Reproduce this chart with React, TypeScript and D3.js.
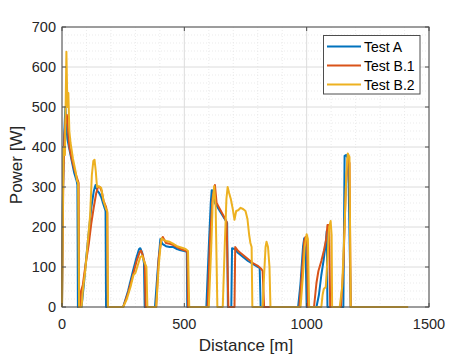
import React from "react";
import * as d3 from "d3";

const distA = [0, 3, 8, 14, 18, 22, 30, 40, 50, 60, 63, 65, 80, 90, 100, 110, 120, 130, 137, 145, 152, 160, 170, 178, 180, 250, 270, 290, 305, 315, 320, 328, 335, 338, 380, 392, 402, 410, 425, 440, 455, 470, 485, 500, 510, 512, 590, 600, 608, 612, 618, 625, 640, 660, 675, 678, 692, 695, 705, 720, 740, 760, 780, 800, 808, 812, 965, 975, 985, 990, 995, 1000, 1040, 1050, 1060, 1070, 1078, 1082, 1085, 1150, 1155, 1162, 1170, 1180, 1190];
const powA = [0, 250, 420, 500, 450, 420, 395, 365, 335, 315, 305, 0, 0, 60, 130, 190, 250, 290, 305, 290, 285, 275, 255, 240, 0, 0, 40, 90, 125, 145, 147, 135, 110, 0, 0, 100, 170, 158, 152, 150, 150, 145, 142, 140, 138, 0, 0, 150, 260, 292, 290, 260, 245, 225, 210, 0, 0, 147, 145, 135, 125, 115, 108, 100, 97, 0, 0, 60, 150, 172, 165, 0, 0, 30, 80, 120, 160, 190, 0, 0, 378, 380, 370, 0, 0];

const distB1 = [0, 5, 10, 15, 20, 25, 30, 40, 50, 60, 68, 70, 75, 78, 85, 95, 110, 120, 130, 140, 147, 155, 162, 170, 180, 185, 187, 250, 270, 290, 305, 318, 323, 330, 338, 342, 385, 395, 405, 412, 425, 440, 455, 470, 485, 500, 512, 515, 595, 605, 615, 625, 632, 645, 660, 673, 680, 705, 708, 720, 740, 760, 780, 800, 815, 820, 826, 970, 980, 990, 995, 1002, 1005, 1030, 1040, 1048, 1060, 1070, 1080, 1085, 1092, 1096, 1140, 1150, 1160, 1168, 1175, 1180, 1190];
const powB1 = [0, 300, 430, 470, 480, 440, 400, 370, 345, 325, 310, 0, 0, 40, 55, 100, 160, 210, 250, 285, 300, 300, 290, 265, 250, 235, 0, 0, 35, 80, 115, 138, 141, 130, 110, 0, 0, 120, 165, 175, 160, 158, 155, 150, 145, 142, 138, 0, 0, 170, 270, 305, 260, 245, 228, 213, 0, 0, 150, 140, 130, 120, 110, 103, 95, 90, 0, 0, 80, 165, 175, 160, 0, 0, 60, 90, 115, 140, 170, 205, 205, 0, 0, 100, 300, 372, 360, 0, 0];

const distB2 = [0, 3, 6, 12, 18, 22, 26, 30, 35, 45, 55, 62, 66, 70, 80, 85, 95, 105, 115, 122, 128, 133, 138, 143, 150, 160, 170, 180, 185, 188, 250, 265, 280, 292, 300, 310, 320, 328, 335, 345, 349, 385, 395, 402, 407, 415, 425, 440, 455, 470, 490, 505, 515, 520, 600, 610, 616, 622, 628, 635, 657, 665, 672, 677, 683, 690, 698, 705, 712, 720, 730, 740, 750, 758, 765, 770, 775, 778, 820, 826, 832, 836, 842, 848, 852, 975, 985, 992, 1000, 1005, 1010, 1060, 1065, 1070, 1078, 1085, 1092, 1098, 1102, 1104, 1135, 1145, 1155, 1162, 1168, 1175, 1180, 1415];
const powB2 = [0, 200, 400, 380, 638, 500, 535, 440, 410, 370, 340, 315, 310, 0, 0, 40, 90, 160, 230, 330, 365, 368, 340, 300, 302, 298, 265, 245, 240, 0, 0, 20, 50, 80, 85, 105, 125, 128, 115, 100, 0, 0, 100, 150, 172, 168, 165, 163, 158, 152, 148, 145, 140, 0, 0, 150, 260, 302, 250, 0, 0, 150, 270, 300, 285, 270, 245, 218, 240, 242, 248, 245, 240, 220, 180, 160, 150, 0, 0, 80, 150, 163, 150, 100, 0, 0, 80, 150, 182, 170, 0, 0, 30, 45, 50, 120, 200, 215, 180, 0, 0, 50, 200, 330, 384, 375, 0, 0];

const seriesNames = ["Test A", "Test B.1", "Test B.2"];
const seriesColors = ["#0072BD", "#D95319", "#EDB120"];
const xTicks = [0, 500, 1000, 1500];
const yTicks = [0, 100, 200, 300, 400, 500, 600, 700];

const W = 474, H = 356;
const L = 62, R = 429, T = 27, B = 307;

export default function App() {
  const x = d3.scaleLinear().domain([0, 1500]).range([L, R]);
  const y = d3.scaleLinear().domain([0, 700]).range([B, T]);
  const series = [
    distA.map((d, i) => [d, powA[i]]),
    distB1.map((d, i) => [d, powB1[i]]),
    distB2.map((d, i) => [d, powB2[i]]),
  ];
  const line = d3.line<number[]>().x((d) => x(d[0])).y((d) => y(d[1]));
  const xMinor = d3.range(0, 1501, 100).filter((v) => v % 500 !== 0);
  const yMinor = d3.range(0, 701, 20).filter((v) => v % 100 !== 0);
  const font = "'Liberation Sans', Arial, sans-serif";
  const axisColor = "#4d4d4d";
  return (
    <svg width={W} height={H} style={{ position: "absolute", left: 0, top: 0, background: "#fff" }} fontFamily={font}>
      <rect x={0} y={0} width={W} height={H} fill="#fff" />
      {xMinor.map((v) => (
        <line key={"xm" + v} x1={x(v)} x2={x(v)} y1={T} y2={B} stroke="#e6e6e6" strokeWidth={0.8} strokeDasharray="1,2" />
      ))}
      {yMinor.map((v) => (
        <line key={"ym" + v} x1={L} x2={R} y1={y(v)} y2={y(v)} stroke="#e6e6e6" strokeWidth={0.8} strokeDasharray="1,2" />
      ))}
      {xTicks.map((v) => (
        <line key={"xg" + v} x1={x(v)} x2={x(v)} y1={T} y2={B} stroke="#dcdcdc" strokeWidth={1} />
      ))}
      {yTicks.map((v) => (
        <line key={"yg" + v} x1={L} x2={R} y1={y(v)} y2={y(v)} stroke="#dcdcdc" strokeWidth={1} />
      ))}
      {series.map((s, i) => (
        <path key={i} d={line(s) || ""} fill="none" stroke={seriesColors[i]} strokeWidth={2} strokeLinejoin="round" />
      ))}
      <rect x={L} y={T} width={R - L} height={B - T} fill="none" stroke={axisColor} strokeWidth={1} />
      {xTicks.map((v) => (
        <g key={"xt" + v}>
          <line x1={x(v)} x2={x(v)} y1={B} y2={B - 4} stroke={axisColor} />
          <line x1={x(v)} x2={x(v)} y1={T} y2={T + 4} stroke={axisColor} />
          <text x={x(v)} y={329} textAnchor="middle" fontSize={14.5} fill="#262626">{v}</text>
        </g>
      ))}
      {yTicks.map((v) => (
        <g key={"yt" + v}>
          <line x1={L} x2={L + 4} y1={y(v)} y2={y(v)} stroke={axisColor} />
          <line x1={R} x2={R - 4} y1={y(v)} y2={y(v)} stroke={axisColor} />
          <text x={56} y={y(v) + 5} textAnchor="end" fontSize={14.5} fill="#262626">{v}</text>
        </g>
      ))}
      <text x={246} y={351} textAnchor="middle" fontSize={17} fill="#262626">Distance [m]</text>
      <text transform={`translate(22,165) rotate(-90)`} textAnchor="middle" fontSize={17} fill="#262626">Power [W]</text>
      <rect x={323.5} y={35.5} width={96.5} height={58.5} fill="#fff" stroke={axisColor} strokeWidth={1} />
      {seriesNames.map((n, i) => (
        <g key={n}>
          <line x1={327} x2={361} y1={46.5 + i * 19} y2={46.5 + i * 19} stroke={seriesColors[i]} strokeWidth={2} />
          <text x={364} y={51.5 + i * 19} fontSize={14} fill="#000">{n}</text>
        </g>
      ))}
    </svg>
  );
}
